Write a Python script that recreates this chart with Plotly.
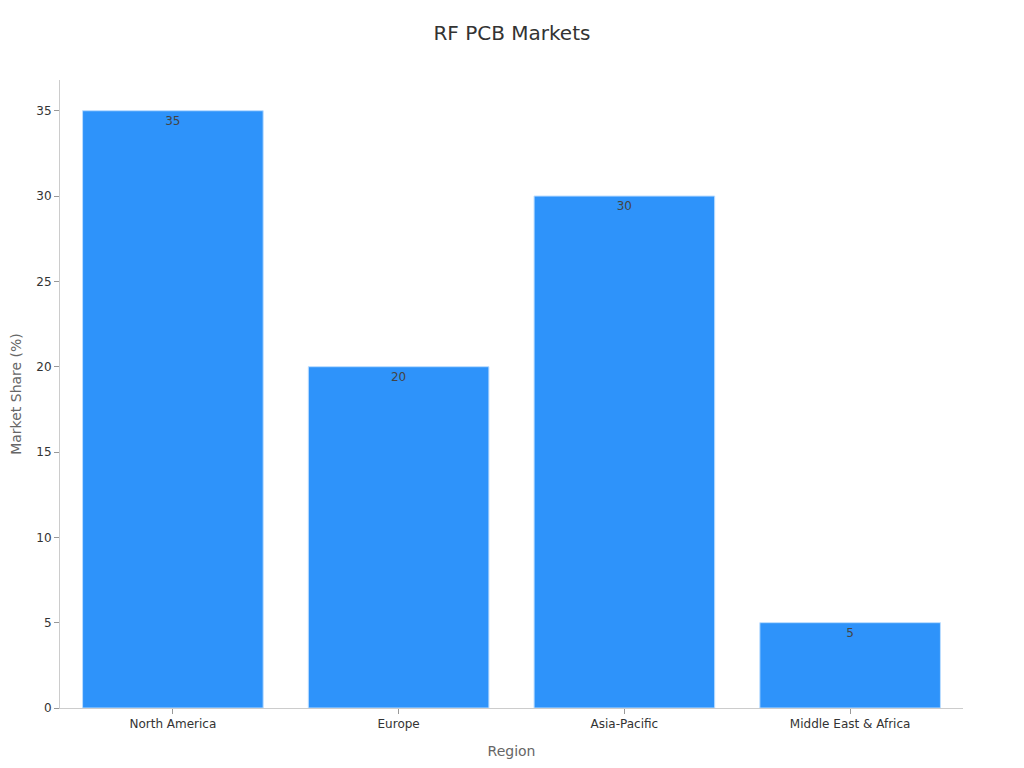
import plotly.graph_objects as go

regions = ["North America", "Europe", "Asia-Pacific", "Middle East & Africa"]
market_share = [35, 20, 30, 5]

fig = go.Figure(
    go.Bar(
        x=regions,
        y=market_share,
        text=[str(v) for v in market_share],
        textposition="inside",
        insidetextanchor="end",
        textfont=dict(size=12, color="#444444"),
        marker=dict(color="#2E93FA", line=dict(color="#BBDDFF", width=1)),
        width=0.8,
    )
)

fig.update_layout(
    width=1016,
    height=760,
    font=dict(family="DejaVu Sans", color="#333333"),
    title=dict(text="RF PCB Markets", x=0.496, xanchor="center", y=0.967, yanchor="middle",
               font=dict(size=20, color="#333333")),
    paper_bgcolor="white",
    plot_bgcolor="white",
    margin=dict(l=52, r=61, t=72, b=60),
    showlegend=False,
    bargap=0.2,
)

fig.update_xaxes(
    title=dict(text="Region", font=dict(size=14, color="#666666")),
    showline=True, linecolor="#CCCCCC", linewidth=1,
    ticks="outside", tickcolor="#999999", ticklen=5,
    tickfont=dict(size=12, color="#333333"),
    showgrid=False, automargin=False,
)
fig.update_yaxes(
    title=dict(text="Market Share (%)", font=dict(size=14, color="#666666"), standoff=15),
    range=[0, 36.8],
    dtick=5,
    showline=True, linecolor="#CCCCCC", linewidth=1,
    ticks="outside", tickcolor="#999999", ticklen=5,
    tickfont=dict(size=12, color="#333333"),
    showgrid=False, zeroline=False, automargin=False,
)

fig.write_html("out.html")
